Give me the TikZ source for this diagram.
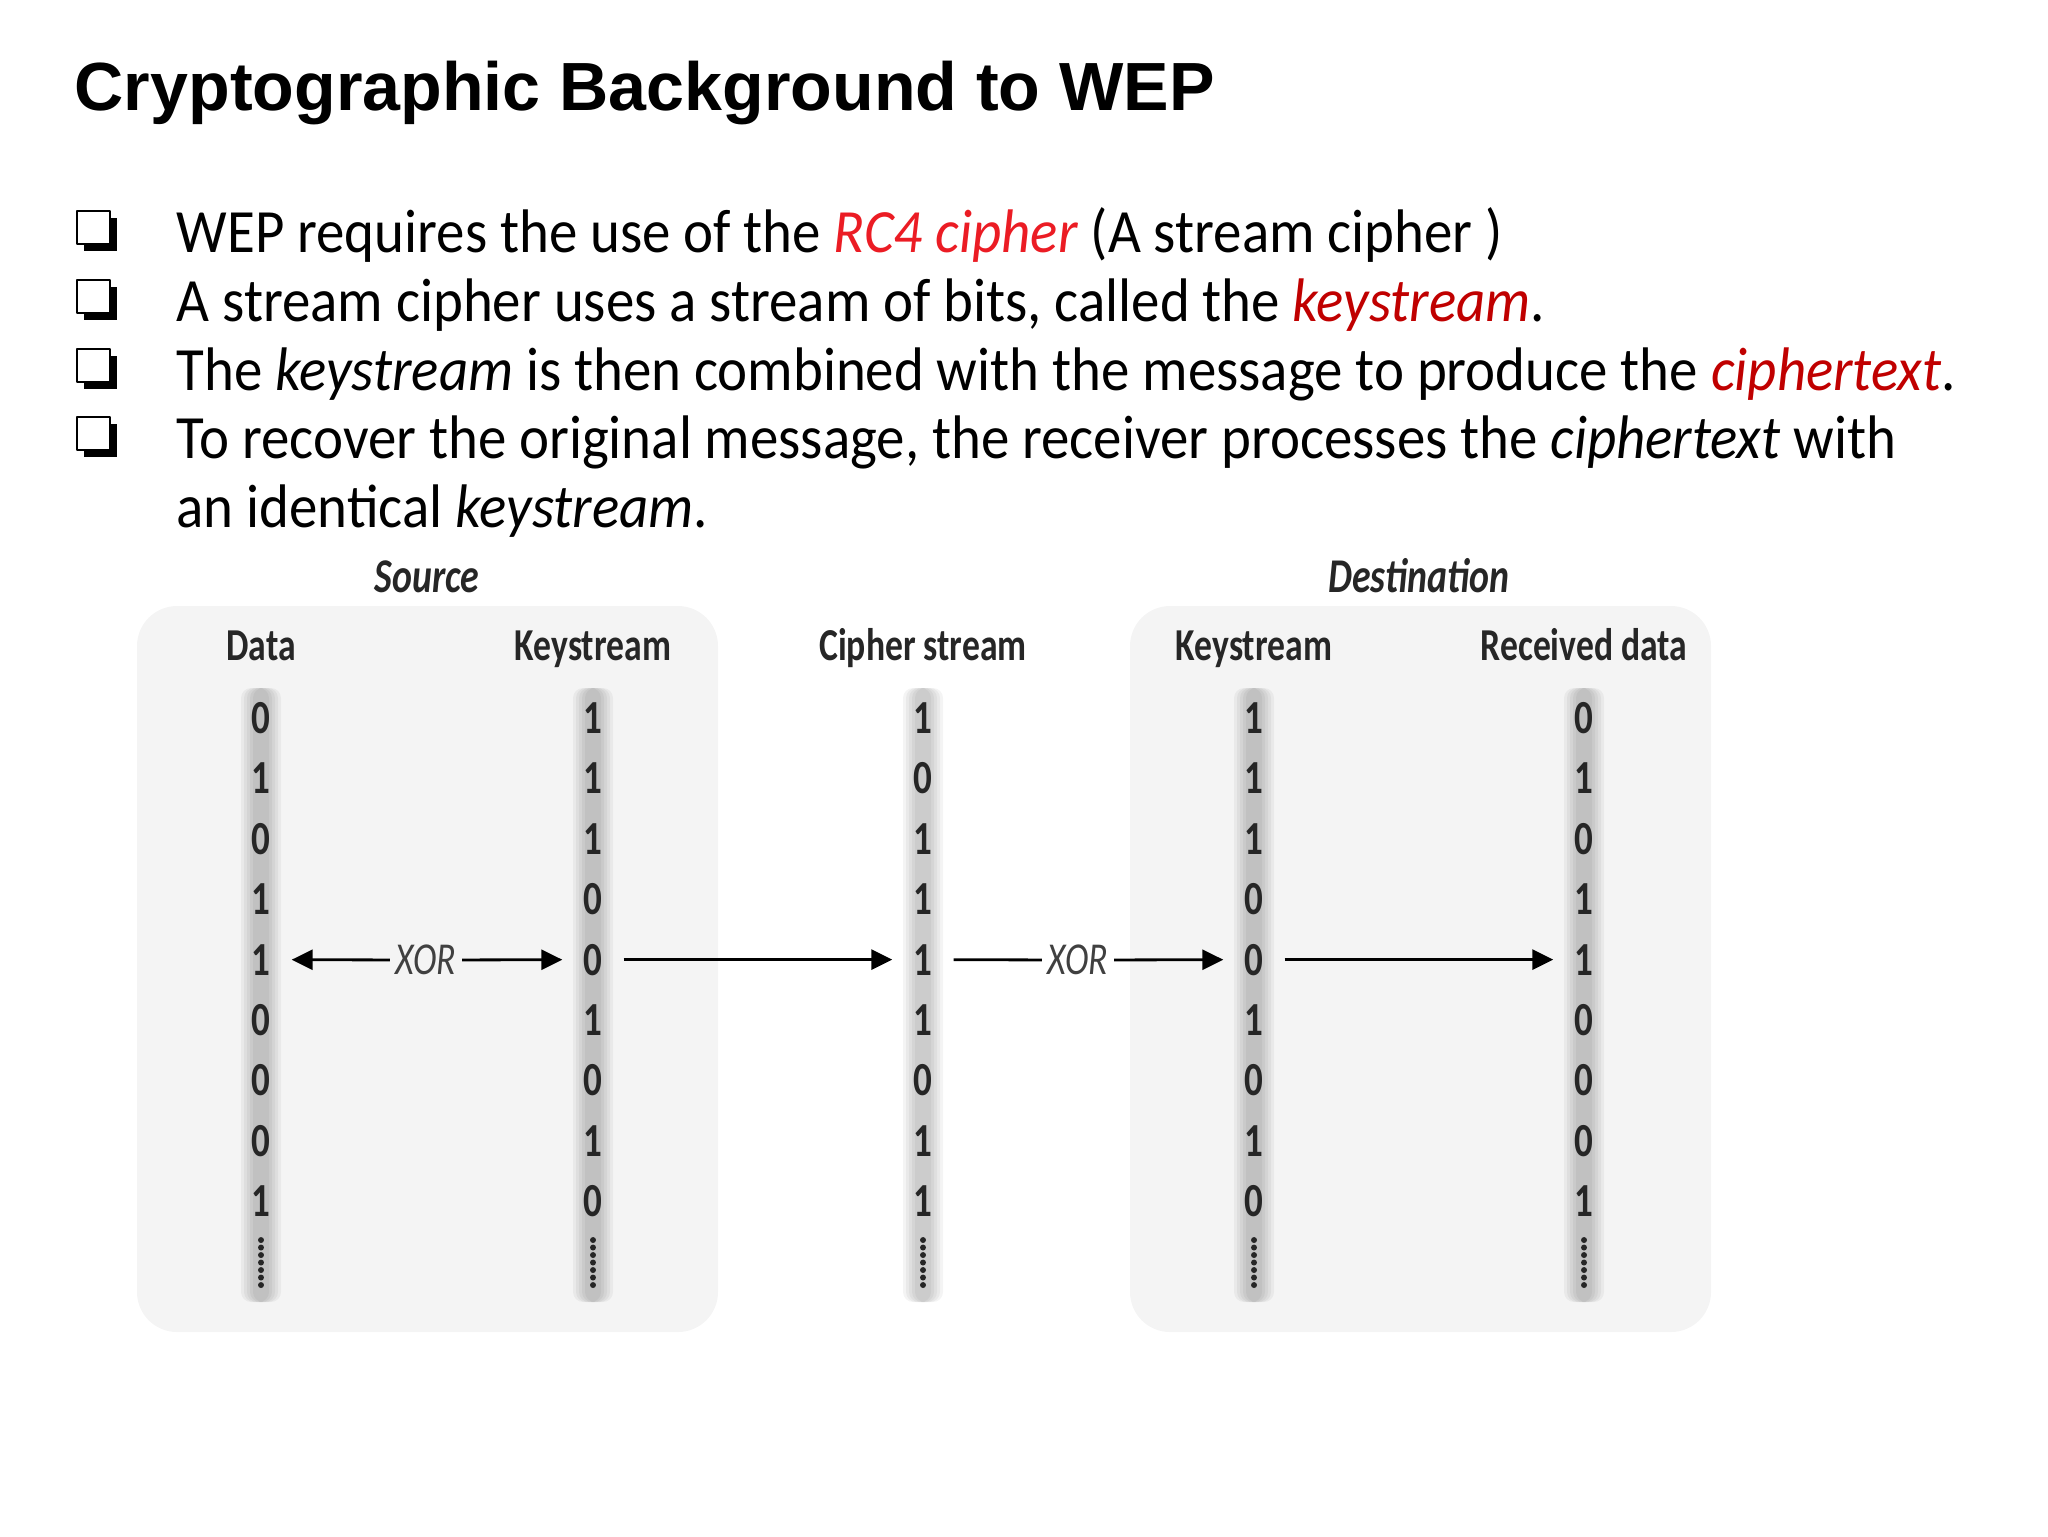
\documentclass[tikz,border=0pt]{standalone}
\usepackage{fontspec}
\setmainfont[FakeStretch=0.925]{Carlito}
\newfontfamily\headfont{Liberation Sans}
\newfontfamily\figfont[FakeStretch=0.78]{Carlito}
\usetikzlibrary{arrows.meta, positioning, calc}
\definecolor{boxgray}{RGB}{244,244,244}
\definecolor{brightred}{RGB}{235,28,36}
\definecolor{darkred}{RGB}{192,0,0}
\tikzset{
  bullettext/.style={anchor=base west, inner sep=0pt, font=\fontsize{17.5}{21}\selectfont},
  colhead/.style={anchor=base, inner sep=0pt, font=\figfont\bfseries\fontsize{13}{15}\selectfont, text=black!85},
  sidehead/.style={anchor=base, inner sep=0pt, font=\figfont\bfseries\itshape\fontsize{13.8}{16}\selectfont, text=black!85},
  bit/.style={inner sep=0pt, minimum width=6mm, minimum height=5mm, font=\figfont\bfseries\fontsize{13.5}{15}\selectfont, text=black!85},
  xorlabel/.style={inner sep=1.5pt, font=\figfont\itshape\fontsize{13}{15}\selectfont, text=black!75}
}

\begin{document}
\begin{tikzpicture}[x=0.1mm, y=-0.1mm, >={Triangle[length=2.1mm, width=2mm]}, line join=round]
      \useasboundingbox (0,0) rectangle (2048,1536);
      \node[anchor=base west, inner sep=0pt, font=\headfont\bfseries\fontsize{19.4}{23}\selectfont] (title) at (74,110) {Cryptographic Background to WEP};
      \foreach \b in {252,321,390,458} {
        \fill (84,\b-34) rectangle (117,\b-1);
        \draw[line width=0.2mm, fill=white] (77,\b-41) rectangle (110,\b-8);
      }
      \node[bullettext] (item1) at (176,252) {WEP requires the use of the \textcolor{brightred}{\textit{RC4 cipher}} (A stream cipher )};
      \node[bullettext] (item2) at (176,321) {A stream cipher uses a stream of bits, called the \textcolor{darkred}{\textit{keystream}}.};
      \node[bullettext] (item3) at (176,390) {The \textit{keystream} is then combined with the message to produce the \textcolor{darkred}{\textit{ciphertext}}.};
      \node[bullettext] (item4) at (176,458) {To recover the original message, the receiver processes the \textit{ciphertext} with};
      \node[bullettext] (item5) at (176,527) {an identical \textit{keystream}.};
      \fill[boxgray, rounded corners=4mm] (137,606) rectangle (718,1332);
      \fill[boxgray, rounded corners=4mm] (1130,606) rectangle (1711,1332);
      \foreach \x in {261,593,923,1254,1584}
        \foreach \w in {20,17,14,11,8}
          \fill[black, opacity=0.045, rounded corners=1mm] (\x-\w,688) rectangle (\x+\w,1302);
      \node[sidehead] (source) at (427,592) {Source};
      \node[sidehead] (dest) at (1419,592) {Destination};
      \node[colhead] (hdata) at (261,660) {Data};
      \node[colhead] (hkey) at (593,660) {Keystream};
      \node[colhead] (hcipher) at (923,660) {Cipher stream};
      \node[colhead] (hkey2) at (1254,660) {Keystream};
      \node[colhead] (hrecv) at (1584,660) {Received data};
      \foreach \d [count=\i] in {0,1,0,1,1,0,0,0,1}
        \node[bit] (d\i) at (261,657.6+60.4*\i) {\d};
      \foreach \d [count=\i] in {1,1,1,0,0,1,0,1,0}
        \node[bit] (k\i) at (593,657.6+60.4*\i) {\d};
      \foreach \d [count=\i] in {1,0,1,1,1,1,0,1,1}
        \node[bit] (c\i) at (923,657.6+60.4*\i) {\d};
      \foreach \d [count=\i] in {1,1,1,0,0,1,0,1,0}
        \node[bit] (kd\i) at (1254,657.6+60.4*\i) {\d};
      \foreach \d [count=\i] in {0,1,0,1,1,0,0,0,1}
        \node[bit] (r\i) at (1584,657.6+60.4*\i) {\d};
      \foreach \x in {261,593,923,1254,1584}
        \foreach \k in {0,...,6}
          \fill[black!85] (\x,1240+7.5*\k) circle (0.85pt);
      \node[xorlabel] (xor1) at (426,960) {XOR};
      \node[xorlabel] (xor2) at (1078,960) {XOR};
      \draw[line width=0.28mm, ->] (xor1) -- (d5);
      \draw[line width=0.28mm, ->] (xor1) -- (k5);
      \draw[line width=0.28mm, ->] (k5) -- (c5);
      \draw[line width=0.28mm] (c5) -- (xor2);
      \draw[line width=0.28mm, ->] (xor2) -- (kd5);
      \draw[line width=0.28mm, ->] (kd5) -- (r5);
    \end{tikzpicture}
\end{document}
